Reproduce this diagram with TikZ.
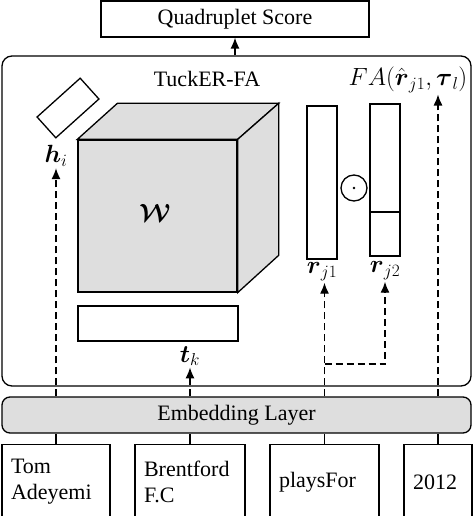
\documentclass[tikz,border=0pt]{standalone}
\usepackage{amsmath,amssymb}
\usepackage{fontspec}
\setmainfont{Liberation Serif}
\usetikzlibrary{arrows.meta,calc}

\tikzset{
  box/.style={draw,fill=white,inner sep=0pt},
  grey/.style={fill=black!13},
  dasharrow/.style={dash pattern=on 7pt off 4pt,-{Latex[length=11pt,width=9pt]}},
  lab/.style={inner sep=1pt,font=\fontsize{26}{30}\selectfont},
  inbox/.style={box,minimum height=75,align=left,inner xsep=9pt}
}

\begin{document}
\begin{tikzpicture}[x=1pt,y=-1pt,line width=1.3pt,font=\fontsize{22}{26}\selectfont]
\useasboundingbox (0,0) rectangle (474,516);
% output
\node[box,minimum width=268,minimum height=36] (score) at (235,19) {Quadruplet Score};
% model frame
\node[box,rounded corners=10pt,minimum width=469,minimum height=330] (model) at (236.5,221) {};
\draw[-{Latex[length=11pt,width=9pt]}] (model.north -| score.south) -- (score.south);
\node (title) at (207,79) {TuckER-FA};
\node[inner sep=1pt,font=\fontsize{23}{27}\selectfont] (fa) at (408,80) {$FA(\hat{\boldsymbol{r}}_{j1},\boldsymbol{\tau}_l)$};

% head entity
\node[box,minimum width=58,minimum height=28,rotate=42] (hvec) at (68,108) {};
\node[lab] (hi) at (56,156) {$\boldsymbol{h}_i$};

% core tensor
\node[box,grey,minimum width=159,minimum height=152] (wfront) at (157.5,216) {};
\draw[grey] (wfront.north west) -- ++(40,-36) -- ($(wfront.north east)+(41,-36)$) -- (wfront.north east) -- cycle;
\draw[grey] (wfront.north east) -- ++(41,-36) -- ++(0,152) -- (wfront.south east) -- cycle;
\node[lab] (wlab) at (155,213) {$\boldsymbol{\mathcal{W}}$};

% tail entity
\node[box,minimum width=160,minimum height=35] (tvec) at (158,323.5) {};
\node[lab] (tk) at (190,356) {$\boldsymbol{t}_k$};

% relations
\node[box,minimum width=30,minimum height=153] (rone) at (322,182.5) {};
\node[box,minimum width=30,minimum height=152] (rtwo) at (385,180) {};
\draw (rtwo.west |- 0,212) -- (rtwo.east |- 0,212);
\node[draw,circle,minimum size=26,inner sep=0pt] (dot) at (354,188) {};
\fill (dot.center) circle (1.3pt);
\node[lab] (rjone) at (322,272) {$\boldsymbol{r}_{j1}$};
\node[lab] (rjtwo) at (385,271) {$\boldsymbol{r}_{j2}$};

% embedding
\node[box,grey,rounded corners=8pt,minimum width=469,minimum height=36] (emb) at (236.5,415) {Embedding Layer};

% inputs
\node[inbox,minimum width=108,text width=90] (tom) at (56,482) {Tom\\Adeyemi};
\node[inbox,minimum width=110,text width=92] (club) at (190,482) {Brentford\\F.C};
\node[inbox,minimum width=109,text width=91] (rel) at (324.5,482) {playsFor};
\node[inbox,minimum width=68,text width=50] (year) at (438,482) {2012};

% connectors
\foreach \b in {tom,club,rel,year}
  \draw (\b.north) -- (\b.north |- emb.south);
\draw[dasharrow] (emb.north -| hi.south) -- (hi.south);
\draw[dasharrow] (emb.north -| tk.south) -- (tk.south);
\draw[dasharrow] (emb.north -| rel.north) -- (rel.north |- rjone.south);
\coordinate (split) at (rel.north |- 0,364);
\draw[dasharrow] (split) -| (rjtwo.south);
\draw[dasharrow] (emb.north -| year.north) -- (year.north |- fa.south);
\end{tikzpicture}
\end{document}
